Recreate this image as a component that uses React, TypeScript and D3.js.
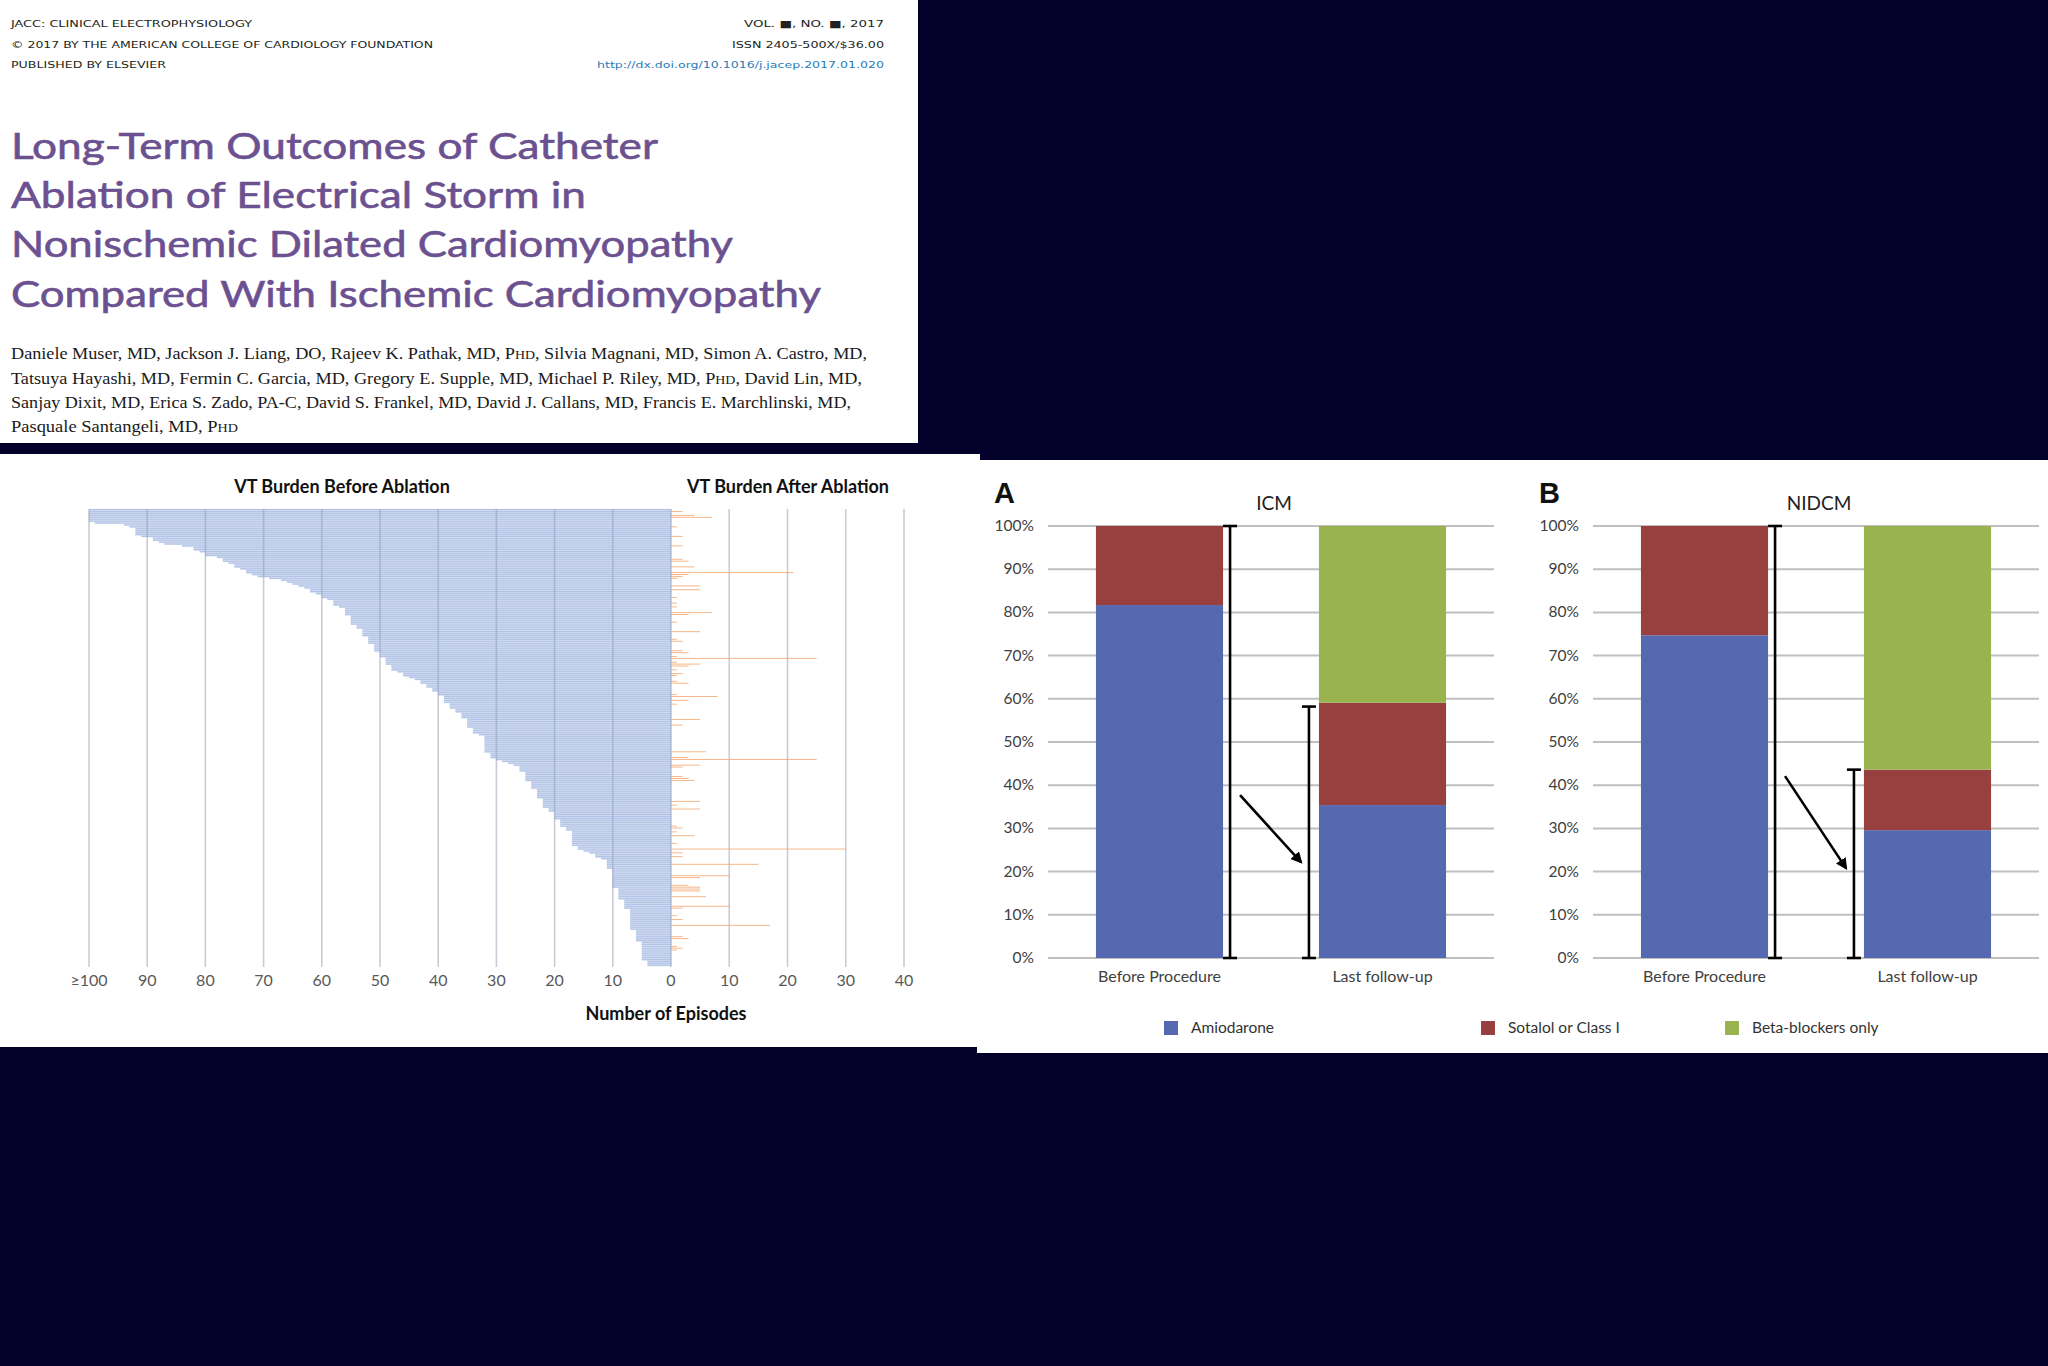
import * as d3 from "d3";

const W = 2048;
const H = 1366;

// VT episodes per patient, sorted by burden before ablation (capped at 100)
const beforeEpisodes = [
  100, 100, 100, 100, 100, 100, 100, 99, 94, 93, 92, 92, 92, 92, 91, 89, 89, 88, 87, 84,
  82, 82, 81, 80, 80, 78, 77, 77, 76, 75, 75, 74, 73, 73, 72, 71, 69, 67, 66, 65,
  64, 63, 62, 62, 61, 60, 60, 59, 58, 58, 58, 57, 56, 56, 56, 56, 55, 55, 55, 55,
  55, 54, 54, 53, 53, 53, 53, 52, 52, 52, 52, 51, 51, 51, 51, 50, 50, 50, 49, 49,
  49, 49, 48, 48, 48, 47, 46, 46, 45, 44, 43, 43, 42, 42, 41, 41, 40, 40, 39, 39,
  39, 39, 38, 38, 38, 37, 37, 36, 36, 36, 35, 35, 35, 35, 35, 34, 34, 34, 33, 32,
  32, 32, 32, 32, 32, 32, 32, 32, 31, 31, 31, 30, 29, 28, 27, 26, 26, 26, 25, 25,
  25, 25, 25, 24, 24, 24, 24, 23, 23, 23, 23, 23, 22, 22, 22, 22, 22, 21, 21, 20,
  20, 20, 20, 19, 19, 19, 19, 18, 18, 17, 17, 17, 17, 17, 17, 17, 17, 16, 16, 15,
  14, 13, 13, 12, 11, 11, 11, 11, 11, 10, 10, 10, 10, 10, 10, 10, 10, 10, 10, 9,
  9, 9, 9, 9, 9, 8, 8, 8, 8, 8, 7, 7, 7, 7, 7, 7, 7, 7, 7, 7,
  7, 6, 6, 6, 6, 6, 6, 5, 5, 5, 5, 5, 5, 5, 5, 5, 5, 4, 4, 4,
];

// same patients, episodes after ablation
const afterEpisodes = [
  0, 2, 0, 4, 7, 0, 0, 0, 0, 1, 0, 0, 0, 0, 2, 0, 0, 0, 0, 2,
  0, 0, 0, 0, 0, 0, 2, 3, 0, 0, 4, 0, 0, 21, 3, 2, 1, 0, 0, 0,
  5, 0, 5, 0, 0, 0, 1, 0, 0, 1, 0, 1, 0, 0, 7, 3, 0, 0, 0, 1,
  0, 0, 0, 0, 5, 0, 0, 0, 1, 2, 0, 0, 0, 0, 2, 3, 0, 1, 25, 0,
  1, 5, 3, 0, 1, 0, 2, 1, 0, 0, 1, 3, 0, 0, 0, 0, 0, 1, 8, 0,
  3, 0, 1, 0, 0, 0, 0, 0, 0, 0, 5, 0, 0, 2, 0, 0, 0, 0, 0, 0,
  0, 0, 0, 0, 0, 0, 0, 6, 0, 0, 3, 25, 0, 0, 5, 2, 0, 0, 0, 0,
  2, 3, 4, 0, 0, 0, 0, 0, 0, 0, 0, 0, 0, 5, 0, 1, 0, 5, 0, 0,
  0, 0, 0, 0, 0, 0, 1, 2, 0, 1, 0, 4, 0, 0, 0, 1, 0, 0, 30, 0,
  2, 0, 2, 0, 0, 0, 15, 0, 0, 0, 0, 0, 10, 5, 0, 0, 0, 3, 5, 5,
  5, 0, 0, 6, 0, 0, 0, 0, 10, 2, 0, 0, 0, 1, 0, 2, 0, 0, 17, 0,
  0, 0, 0, 0, 2, 3, 0, 0, 0, 1, 2, 1, 0, 0, 0, 0, 0, 0, 0, 0,
];

const beforeTicks = [100, 90, 80, 70, 60, 50, 40, 30, 20, 10, 0];
const afterTicks = [10, 20, 30, 40];

const timepoints = ["Before Procedure", "Last follow-up"];
const drugClasses = ["Amiodarone", "Sotalol or Class I", "Beta-blockers only"];
const drugColors = ["#5669b0", "#98403f", "#99b34f"];
const pctTicks = [0, 10, 20, 30, 40, 50, 60, 70, 80, 90, 100];

// percent of patients on each drug class
const icmBefore = [81.7, 18.3, 0];
const icmAfter = [35.4, 23.7, 40.9];
const nidcmBefore = [74.7, 25.3, 0];
const nidcmAfter = [29.6, 14.0, 56.4];

// bracket tops (before, after) and arrow span in percent
const icmBrackets = [100, 58.2];
const nidcmBrackets = [100, 43.6];
const icmArrow = [37.7, 22.2];
const nidcmArrow = [42.1, 20.8];

const sans = "Lato, 'Open Sans', sans-serif";

const Header = () => {
  const caps = {
    fontFamily: "'DejaVu Sans Condensed', 'Liberation Sans', sans-serif",
    fontSize: 9.5,
    fill: "#231f20",
  };
  const title = [
    ["Long-Term Outcomes of Catheter", 647],
    ["Ablation of Electrical Storm in", 575],
    ["Nonischemic Dilated Cardiomyopathy", 722],
    ["Compared With Ischemic Cardiomyopathy", 810],
  ];
  const phd = (
    <>
      P<tspan fontSize={13}>HD</tspan>
    </>
  );
  return (
    <g>
      <rect x={0} y={0} width={918} height={443} fill="#fff" />
      <text x={11} y={27} {...caps} textLength={241} lengthAdjust="spacingAndGlyphs">JACC: CLINICAL ELECTROPHYSIOLOGY</text>
      <text x={11} y={47.5} {...caps} textLength={422} lengthAdjust="spacingAndGlyphs">© 2017 BY THE AMERICAN COLLEGE OF CARDIOLOGY FOUNDATION</text>
      <text x={11} y={68} {...caps} textLength={155} lengthAdjust="spacingAndGlyphs">PUBLISHED BY ELSEVIER</text>
      <text x={884} y={27} {...caps} textAnchor="end" textLength={140} lengthAdjust="spacingAndGlyphs">VOL. ■, NO. ■, 2017</text>
      <text x={884} y={47.5} {...caps} textAnchor="end" textLength={152} lengthAdjust="spacingAndGlyphs">ISSN 2405-500X/$36.00</text>
      <text x={884} y={68} {...caps} fill="#2b7bb9" textAnchor="end" textLength={287} lengthAdjust="spacingAndGlyphs">http://dx.doi.org/10.1016/j.jacep.2017.01.020</text>
      {title.map(([line, len], i) => (
        <text key={i} x={11} y={159 + i * 49.2} fontFamily={sans} fontSize={37} fill="#6c5191"
          stroke="#6c5191" strokeWidth={0.6}
          textLength={len as number} lengthAdjust="spacingAndGlyphs">{line}</text>
      ))}
      <g fontFamily="'Liberation Serif', 'DejaVu Serif', serif" fontSize={17} fill="#1a1a1a">
        <text x={11} y={359} textLength={856} lengthAdjust="spacingAndGlyphs">
          Daniele Muser, MD, Jackson J. Liang, DO, Rajeev K. Pathak, MD, {phd}, Silvia Magnani, MD, Simon A. Castro, MD,
        </text>
        <text x={11} y={384} textLength={851} lengthAdjust="spacingAndGlyphs">
          Tatsuya Hayashi, MD, Fermin C. Garcia, MD, Gregory E. Supple, MD, Michael P. Riley, MD, {phd}, David Lin, MD,
        </text>
        <text x={11} y={407.5} textLength={840} lengthAdjust="spacingAndGlyphs">
          Sanjay Dixit, MD, Erica S. Zado, PA-C, David S. Frankel, MD, David J. Callans, MD, Francis E. Marchlinski, MD,
        </text>
        <text x={11} y={432} textLength={227} lengthAdjust="spacingAndGlyphs">
          Pasquale Santangeli, MD, {phd}
        </text>
      </g>
    </g>
  );
};

const BurdenChart = () => {
  const x0 = 671;
  const xBefore = d3.scaleLinear().domain([0, 100]).range([x0, 89]);
  const xAfter = d3.scaleLinear().domain([0, 40]).range([x0, 904]);
  const y = d3.scaleBand<number>().domain(d3.range(beforeEpisodes.length)).range([509, 966]).paddingInner(0.3);
  const bw = y.bandwidth();
  const gridTop = 509;
  const gridBottom = 967;
  const gridLines = (
    <>
      {beforeTicks.map((t) => (
        <line key={"b" + t} x1={xBefore(t)} x2={xBefore(t)} y1={gridTop} y2={gridBottom} />
      ))}
      {afterTicks.map((t) => (
        <line key={"a" + t} x1={xAfter(t)} x2={xAfter(t)} y1={gridTop} y2={gridBottom} />
      ))}
    </>
  );
  return (
    <g>
      <rect x={0} y={454} width={980} height={593} fill="#fff" />
      <g stroke="#dcdce0" strokeWidth={1.6}>{gridLines}</g>
      <g fill="#98b0df" fillOpacity={0.72} stroke="#8ea7da" strokeOpacity={0.35} strokeWidth={0.4}>
        {beforeEpisodes.map((v, i) => (
          <rect key={i} x={xBefore(v)} y={y(i)} width={x0 - xBefore(v)} height={bw} />
        ))}
      </g>
      {/* grid shows through the bars as darker lines */}
      <g stroke="#6f7fa6" strokeOpacity={0.18} strokeWidth={1.4}>{gridLines}</g>
      <g fill="#f2a36a" fillOpacity={0.85}>
        {afterEpisodes.map((v, i) =>
          v > 0 ? <rect key={i} x={x0} y={(y(i) as number) + bw * 0.15} width={xAfter(v) - x0} height={bw * 0.7} /> : null
        )}
      </g>
      <g fontFamily={sans} fontSize={16} fill="#595959" textAnchor="middle">
        {beforeTicks.map((t) => (
          <text key={"b" + t} x={xBefore(t)} y={986}>{t === 100 ? "≥100" : t}</text>
        ))}
        {afterTicks.map((t) => (
          <text key={"a" + t} x={xAfter(t)} y={986}>{t}</text>
        ))}
      </g>
      <g fontFamily={sans} fontWeight="bold" fontSize={18} fill="#111" textAnchor="middle">
        <text x={342} y={493}>VT Burden Before Ablation</text>
        <text x={788} y={493}>VT Burden After Ablation</text>
        <text x={666} y={1020}>Number of Episodes</text>
      </g>
    </g>
  );
};

type DrugProps = {
  left: number;
  letter: string;
  name: string;
  before: number[];
  after: number[];
  brackets: number[];
  arrow: number[];
};

const DrugChart = ({ left, letter, name, before, after, brackets, arrow }: DrugProps) => {
  const right = left + 446;
  const y = d3.scaleLinear().domain([0, 100]).range([958, 526]);
  const x = d3.scaleBand().domain(timepoints).range([left, right]).paddingInner(0.43).paddingOuter(0.215);
  const bw = x.bandwidth();
  const stacks = [before, after];
  const bx0 = x(timepoints[0]) as number;
  const bx1 = x(timepoints[1]) as number;
  const bracketX = [bx0 + bw + 7, bx1 - 10];
  return (
    <g>
      <g stroke="#bfbfbf" strokeWidth={2}>
        {pctTicks.map((t) => (
          <line key={t} x1={left} x2={right} y1={y(t)} y2={y(t)} />
        ))}
      </g>
      <g fontFamily={sans} fontSize={15.5} fill="#404040" textAnchor="end">
        {pctTicks.map((t) => (
          <text key={t} x={left - 14} y={y(t) + 5}>{t}%</text>
        ))}
      </g>
      {stacks.map((vals, si) => {
        const cum = d3.cumsum(vals);
        return (
          <g key={si}>
            {vals.map((v, k) =>
              v > 0 ? (
                <rect key={k} x={x(timepoints[si])} width={bw} y={y(cum[k])} height={y(cum[k] - v) - y(cum[k])} fill={drugColors[k]} />
              ) : null
            )}
          </g>
        );
      })}
      <g stroke="#000" strokeWidth={2.6}>
        {brackets.map((top, i) => (
          <g key={i}>
            <line x1={bracketX[i]} x2={bracketX[i]} y1={y(0)} y2={y(top)} />
            <line x1={bracketX[i] - 7} x2={bracketX[i] + 7} y1={y(0)} y2={y(0)} />
            <line x1={bracketX[i] - 7} x2={bracketX[i] + 7} y1={y(top)} y2={y(top)} />
          </g>
        ))}
        <line x1={bx0 + bw + 17} y1={y(arrow[0])} x2={bx1 - 18} y2={y(arrow[1])} markerEnd="url(#arrowhead)" />
      </g>
      <g fontFamily={sans} fontSize={16} fill="#404040" textAnchor="middle">
        {timepoints.map((t) => (
          <text key={t} x={(x(t) as number) + bw / 2} y={982}>{t}</text>
        ))}
      </g>
      <text x={left - 54} y={503} fontFamily="'Liberation Sans', Arial, sans-serif" fontWeight="bold" fontSize={29} fill="#111">{letter}</text>
      <text x={(left + right) / 2 + 3} y={510} fontFamily={sans} fontSize={19} fill="#222" textAnchor="middle">{name}</text>
    </g>
  );
};

const Legend = () => {
  const xs = [1164, 1481, 1725];
  return (
    <g fontFamily={sans} fontSize={15.5} fill="#333">
      {drugClasses.map((d, i) => (
        <g key={d}>
          <rect x={xs[i]} y={1021} width={14} height={14} fill={drugColors[i]} />
          <text x={xs[i] + 27} y={1033}>{d}</text>
        </g>
      ))}
    </g>
  );
};

export default function App() {
  return (
    <svg width={W} height={H} style={{ position: "absolute", left: 0, top: 0, display: "block" }}>
      <defs>
        <marker id="arrowhead" viewBox="0 0 10 10" refX={8} refY={5} markerWidth={4.5} markerHeight={4.5} orient="auto">
          <path d="M0,0 L10,5 L0,10 z" fill="#000" />
        </marker>
      </defs>
      <rect x={0} y={0} width={W} height={H} fill="#03002a" />
      <Header />
      <BurdenChart />
      <rect x={977} y={460} width={W - 977} height={593} fill="#fff" />
      <DrugChart left={1048} letter="A" name="ICM" before={icmBefore} after={icmAfter} brackets={icmBrackets} arrow={icmArrow} />
      <DrugChart left={1593} letter="B" name="NIDCM" before={nidcmBefore} after={nidcmAfter} brackets={nidcmBrackets} arrow={nidcmArrow} />
      <Legend />
    </svg>
  );
}
